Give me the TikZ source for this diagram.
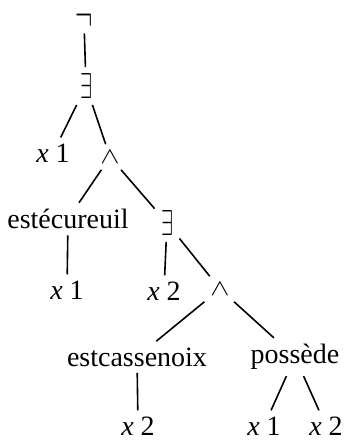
\documentclass[tikz,border=0pt]{standalone}
\usepackage{fontspec}
\setmainfont{Liberation Serif}
\usepackage{graphicx}
\usetikzlibrary{positioning}

\begin{document}
\begin{tikzpicture}[x=0.5pt, y=-0.5pt,
    every node/.style={font=\fontsize{14}{16}\selectfont, inner sep=3pt},
    edge/.style={line width=0.8pt}]
    \useasboundingbox (0,0) rectangle (344,440);
    % operators
    \node[inner sep=1pt] (neg) at (84,21) {\scalebox{0.9}[1.6]{$\neg$}};
    \node (exa) at (86,86) {\scalebox{0.75}[1.25]{$\exists$}};
    \node (anda) at (110,157) {\scalebox{1}[0.8]{$\wedge$}};
    \node (exb) at (167,223) {\scalebox{0.75}[1.25]{$\exists$}};
    \node (andb) at (220,289) {\scalebox{1}[0.8]{$\wedge$}};
    % predicates
    \node (ecu) at (68,219) {estécureuil};
    \node (cas) at (137,357) {estcassenoix};
    \node (pos) at (295,357) {possède};
    % variables
    \node (xa) at (53,153) {\textit{x} 1};
    \node (xb) at (67,290) {\textit{x} 1};
    \node (xc) at (164,291) {\textit{x} 2};
    \node (xd) at (138,426) {\textit{x} 2};
    \node (xe) at (264,426) {\textit{x} 1};
    \node (xf) at (326,426) {\textit{x} 2};
    % branches
    \draw[edge] (neg) -- (exa);
    \draw[edge] (exa) -- (xa);
    \draw[edge] (exa) -- (anda);
    \draw[edge] (anda) -- (ecu);
    \draw[edge] (anda) -- (exb);
    \draw[edge] (ecu) -- (xb);
    \draw[edge] (exb) -- (xc);
    \draw[edge] (exb) -- (andb);
    \draw[edge] (andb) -- (cas);
    \draw[edge] (andb) -- (pos);
    \draw[edge] (cas) -- (xd);
    \draw[edge] (pos) -- (xe);
    \draw[edge] (pos) -- (xf);
\end{tikzpicture}
\end{document}
